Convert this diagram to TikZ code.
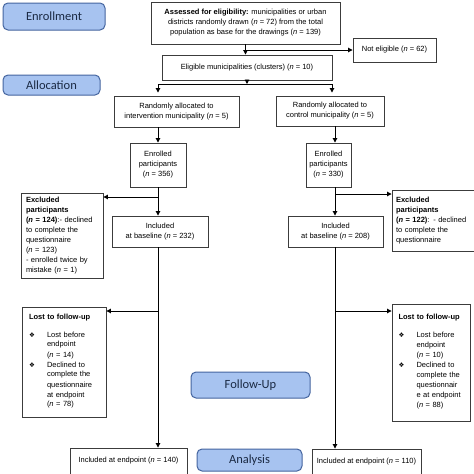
\documentclass[tikz,border=0pt]{standalone}
\usepackage{fontspec}
\setmainfont{Liberation Sans}
\newfontfamily\stagefont{Carlito}
\newfontfamily\dejavu{DejaVu Sans}
\usetikzlibrary{arrows.meta}
\definecolor{stagefill}{HTML}{A7C3F0}
\definecolor{stageline}{HTML}{44649F}
\definecolor{stagetext}{HTML}{1B2A44}
\definecolor{boxline}{HTML}{3C3C3C}
\newcommand{\nn}{\textit{n}}
\newcommand{\bul}{{\dejavu\fontsize{6.5}{10}\selectfont ❖}}
\tikzset{
 box/.style={draw=boxline, line width=0.9pt, inner sep=2pt, font=\fontsize{7.5}{10}\selectfont, align=center},
 lbox/.style={box, align=left, inner xsep=6pt},
 stage/.style={draw=stageline, fill=stagefill, line width=1pt, rounded corners=5pt, text=stagetext, font=\stagefont\fontsize{12.5}{14}\selectfont},
 link/.style={line width=0.9pt, black},
 arr/.style={link, -{Triangle[length=4.5pt,width=4.5pt]}},
}
\begin{document}
\begin{tikzpicture}[x=1pt,y=-1pt]
\useasboundingbox[fill=white] (0,0) rectangle (474,474);
% stage labels
\node[stage, minimum width=102pt, minimum height=27pt] (enroll) at (54,16.5) {Enrollment};
\node[stage, minimum width=97pt, minimum height=20pt] (alloc) at (51.5,85) {Allocation};
\node[stage, minimum width=119pt, minimum height=26pt] (follow) at (250.5,385) {Follow-Up};
\node[stage, minimum width=105pt, minimum height=22pt] (analysis) at (249.5,460) {Analysis};
% boxes
\node[box, minimum width=189pt, minimum height=42pt] (assess) at (245.5,23)
 {\textbf{Assessed for eligibility:} municipalities or urban\\ districts randomly drawn (\nn{} = 72) from the total\\ population as base for the drawings (\nn{} = 139)};
\node[box, minimum width=83pt, minimum height=24pt] (noteleg) at (394.5,50) {Not eligible (\nn{} = 62)};
\node[box, minimum width=170pt, minimum height=25pt] (elig) at (247,67.5) {Eligible municipalities (clusters) (\nn{} = 10)};
\node[box, minimum width=125pt, minimum height=31pt] (interv) at (176.5,111.5) {Randomly allocated to\\ intervention municipality (\nn{} = 5)};
\node[box, minimum width=108pt, minimum height=30pt] (control) at (330,111) {Randomly allocated to\\ control municipality (\nn{} = 5)};
\node[box, minimum width=56pt, minimum height=44pt] (enrL) at (158,165) {Enrolled\\ participants\\ (\nn{} = 356)};
\node[box, minimum width=45pt, minimum height=44pt] (enrR) at (328.5,165) {Enrolled\\ participants\\ (\nn{} = 330)};
\node[lbox, inner xsep=5pt, text width=72pt, minimum height=85pt] (exclL) at (62,235.5)
 {\textbf{Excluded}\\ \textbf{participants}\\ \textbf{(\nn{} = 124)}:- declined\\ to complete the\\ questionnaire\\ (\nn{} = 123)\\ - enrolled twice by\\ mistake (\nn{} = 1)};
\node[lbox, inner xsep=4pt, text width=74pt, minimum height=61pt] (exclR) at (433,220.5)
 {\textbf{Excluded}\\ \textbf{participants}\\ \textbf{(\nn{} = 122)}: - declined\\ to complete the\\ questionnaire};
\node[box, minimum width=96pt, minimum height=31pt] (inclL) at (160,231.5) {Included\\ at baseline (\nn{} = 232)};
\node[box, minimum width=95pt, minimum height=31pt] (inclR) at (335.5,231.5) {Included\\ at baseline (\nn{} = 208)};
\node[lbox, inner xsep=7pt, text width=70pt, minimum height=110pt] (lostL) at (64,362)
 {\textbf{Lost to follow-up}\\[8pt]
  \begin{tabular}{@{}p{18pt}@{}l@{}}
  \bul & Lost before\\ & endpoint\\ & (\nn{} = 14)\\
  \bul & Declined to\\ & complete the\\ & questionnaire\\ & at endpoint\\ & (\nn{} = 78)
  \end{tabular}};
\node[lbox, inner xsep=6.5pt, text width=65pt, minimum height=117pt] (lostR) at (431,362.5)
 {\textbf{Lost to follow-up}\\[8pt]
  \begin{tabular}{@{}p{18pt}@{}l@{}}
  \bul & Lost before\\ & endpoint\\ & (\nn{} = 10)\\
  \bul & Declined to\\ & complete the\\ & questionnair\\ & e at endpoint\\ & (\nn{} = 88)
  \end{tabular}};
\node[box, minimum width=117pt, minimum height=26pt] (endL) at (128.5,461) {Included at endpoint (\nn{} = 140)};
\node[box, minimum width=109pt, minimum height=25pt] (endR) at (366.5,461.5) {Included at endpoint (\nn{} = 110)};
% junction coordinates
\coordinate (xL) at (158,0);
\coordinate (xR) at (335,0);
\coordinate (jtop) at (247,84);
\coordinate (jtL) at (158,84);
\coordinate (jtR) at (332,84);
\coordinate (jexL) at (158,197);
\coordinate (jexR) at (335,194);
\coordinate (jlL) at (158,311);
\coordinate (jlR) at (335,311);
% connectors
\draw[arr] (assess.south) -- (assess.south |- elig.north);
\draw[arr] (assess.south |- noteleg.west) -- (noteleg.west);
\draw[arr] (elig.south) -- (jtop);
\draw[link] (jtL) -- (jtR);
\draw[arr, shorten >=3pt] (jtL) -- (jtL |- interv.north);
\draw[arr, shorten >=3pt] (jtR) -- (jtR |- control.north);
% left branch
\draw[arr] (interv.south -| xL) -- (enrL.north -| xL);
\draw[arr] (enrL.south -| xL) -- (inclL.north -| xL);
\draw[arr] (jexL) -- (jexL -| exclL.east);
\draw[arr] (inclL.south -| xL) -- (endL.north -| xL);
\draw[arr] (jlL) -- (jlL -| lostL.east);
% right branch
\draw[arr] (control.south -| xR) -- (enrR.north -| xR);
\draw[arr] (enrR.south -| xR) -- (inclR.north -| xR);
\draw[arr] (jexR) -- (jexR -| exclR.west);
\draw[arr] (inclR.south -| xR) -- (endR.north -| xR);
\draw[arr] (jlR) -- (jlR -| lostR.west);
\end{tikzpicture}
\end{document}
